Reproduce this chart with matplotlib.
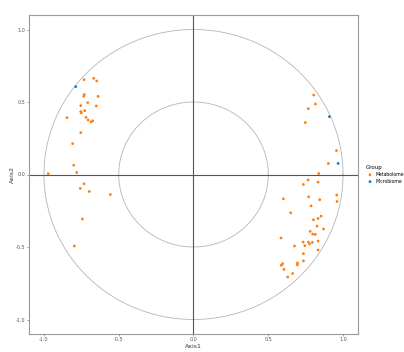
import numpy as np
import matplotlib
matplotlib.use("Agg")
import matplotlib.pyplot as plt

# Metabolome points (Axis1, Axis2)
meta_x = [-0.732, -0.667, -0.647, -0.730, -0.734, -0.638, -0.707, -0.754, -0.650,
          -0.727, -0.754, -0.750, -0.846, -0.719, -0.705, -0.674, -0.685, -0.754,
          -0.808, -0.801, -0.781, -0.971, -0.732, -0.757, -0.697, -0.556, -0.743,
          -0.797,
          0.804, 0.815, 0.768, 0.748, 0.956, 0.902, 0.837, 0.766, 0.735, 0.833,
          0.958, 0.960, 0.601, 0.770, 0.844, 0.786, 0.650, 0.853, 0.833, 0.802,
          0.826, 0.869, 0.780, 0.797, 0.815, 0.585, 0.833, 0.733, 0.768, 0.795,
          0.777, 0.744, 0.675, 0.833, 0.735, 0.735, 0.695, 0.695, 0.596, 0.587,
          0.605, 0.663, 0.630]
meta_y = [0.654, 0.663, 0.645, 0.551, 0.539, 0.539, 0.496, 0.475, 0.473,
          0.440, 0.434, 0.425, 0.392, 0.394, 0.376, 0.370, 0.363, 0.289,
          0.213, 0.064, 0.014, 0.005, -0.064, -0.096, -0.117, -0.138, -0.307,
          -0.493,
          0.548, 0.486, 0.454, 0.358, 0.165, 0.076, 0.007, -0.037, -0.069, -0.053,
          -0.142, -0.186, -0.168, -0.154, -0.174, -0.216, -0.264, -0.287, -0.303, -0.312,
          -0.356, -0.376, -0.392, -0.411, -0.413, -0.438, -0.459, -0.466, -0.466, -0.468,
          -0.479, -0.491, -0.493, -0.521, -0.546, -0.596, -0.610, -0.624, -0.615, -0.626,
          -0.654, -0.683, -0.707]

# Microbiome points
micro_x = [-0.788, 0.909, 0.967]
micro_y = [0.606, 0.399, 0.076]

ticks = [-1.0, -0.5, 0.0, 0.5, 1.0]
tick_labels = ["-1.0", "-0.5", "0.0", "0.5", "1.0"]

fig = plt.figure(figsize=(4.04, 3.52), dpi=100)
ax = fig.add_axes([29/404, 18/352, (358-29)/404, (334-15)/352])

# circles
t = np.linspace(0, 2*np.pi, 400)
for r in [1.0, 0.5]:
    ax.plot(r*np.cos(t), r*np.sin(t), color="#b5b5b5", lw=0.6, zorder=1)
ax.axhline(0, color="#555555", lw=0.8, zorder=1)
ax.axvline(0, color="#555555", lw=0.8, zorder=1)

ax.scatter(meta_x, meta_y, s=4, color="#ff7f0e", edgecolors="none", zorder=3, label="Metabolome")
ax.scatter(micro_x, micro_y, s=4, color="#1f77b4", edgecolors="none", zorder=3, label="Microbiome")

ax.set_xlim(-1.1, 1.1)
ax.set_ylim(-1.1, 1.1)
ax.set_xticks(ticks)
ax.set_xticklabels(tick_labels)
ax.set_yticks(ticks)
ax.set_yticklabels(tick_labels)
ax.tick_params(labelsize=3.5, colors="#555555", length=1.5, width=0.4, pad=1)
for sp in ax.spines.values():
    sp.set_color("#999999")
    sp.set_linewidth(0.8)
ax.set_xlabel("Axis1", fontsize=4.5, color="#333333", labelpad=1)
ax.set_ylabel("Axis2", fontsize=4.5, color="#333333", labelpad=1)

leg = ax.legend(title="Group", loc="center left", bbox_to_anchor=(1.01, 0.5),
                frameon=False, fontsize=3.3, title_fontsize=4, markerscale=1,
                handletextpad=0.3, labelspacing=0.4, borderaxespad=0.5)
leg._legend_box.align = "left"

fig.savefig("out.png", dpi=100)
